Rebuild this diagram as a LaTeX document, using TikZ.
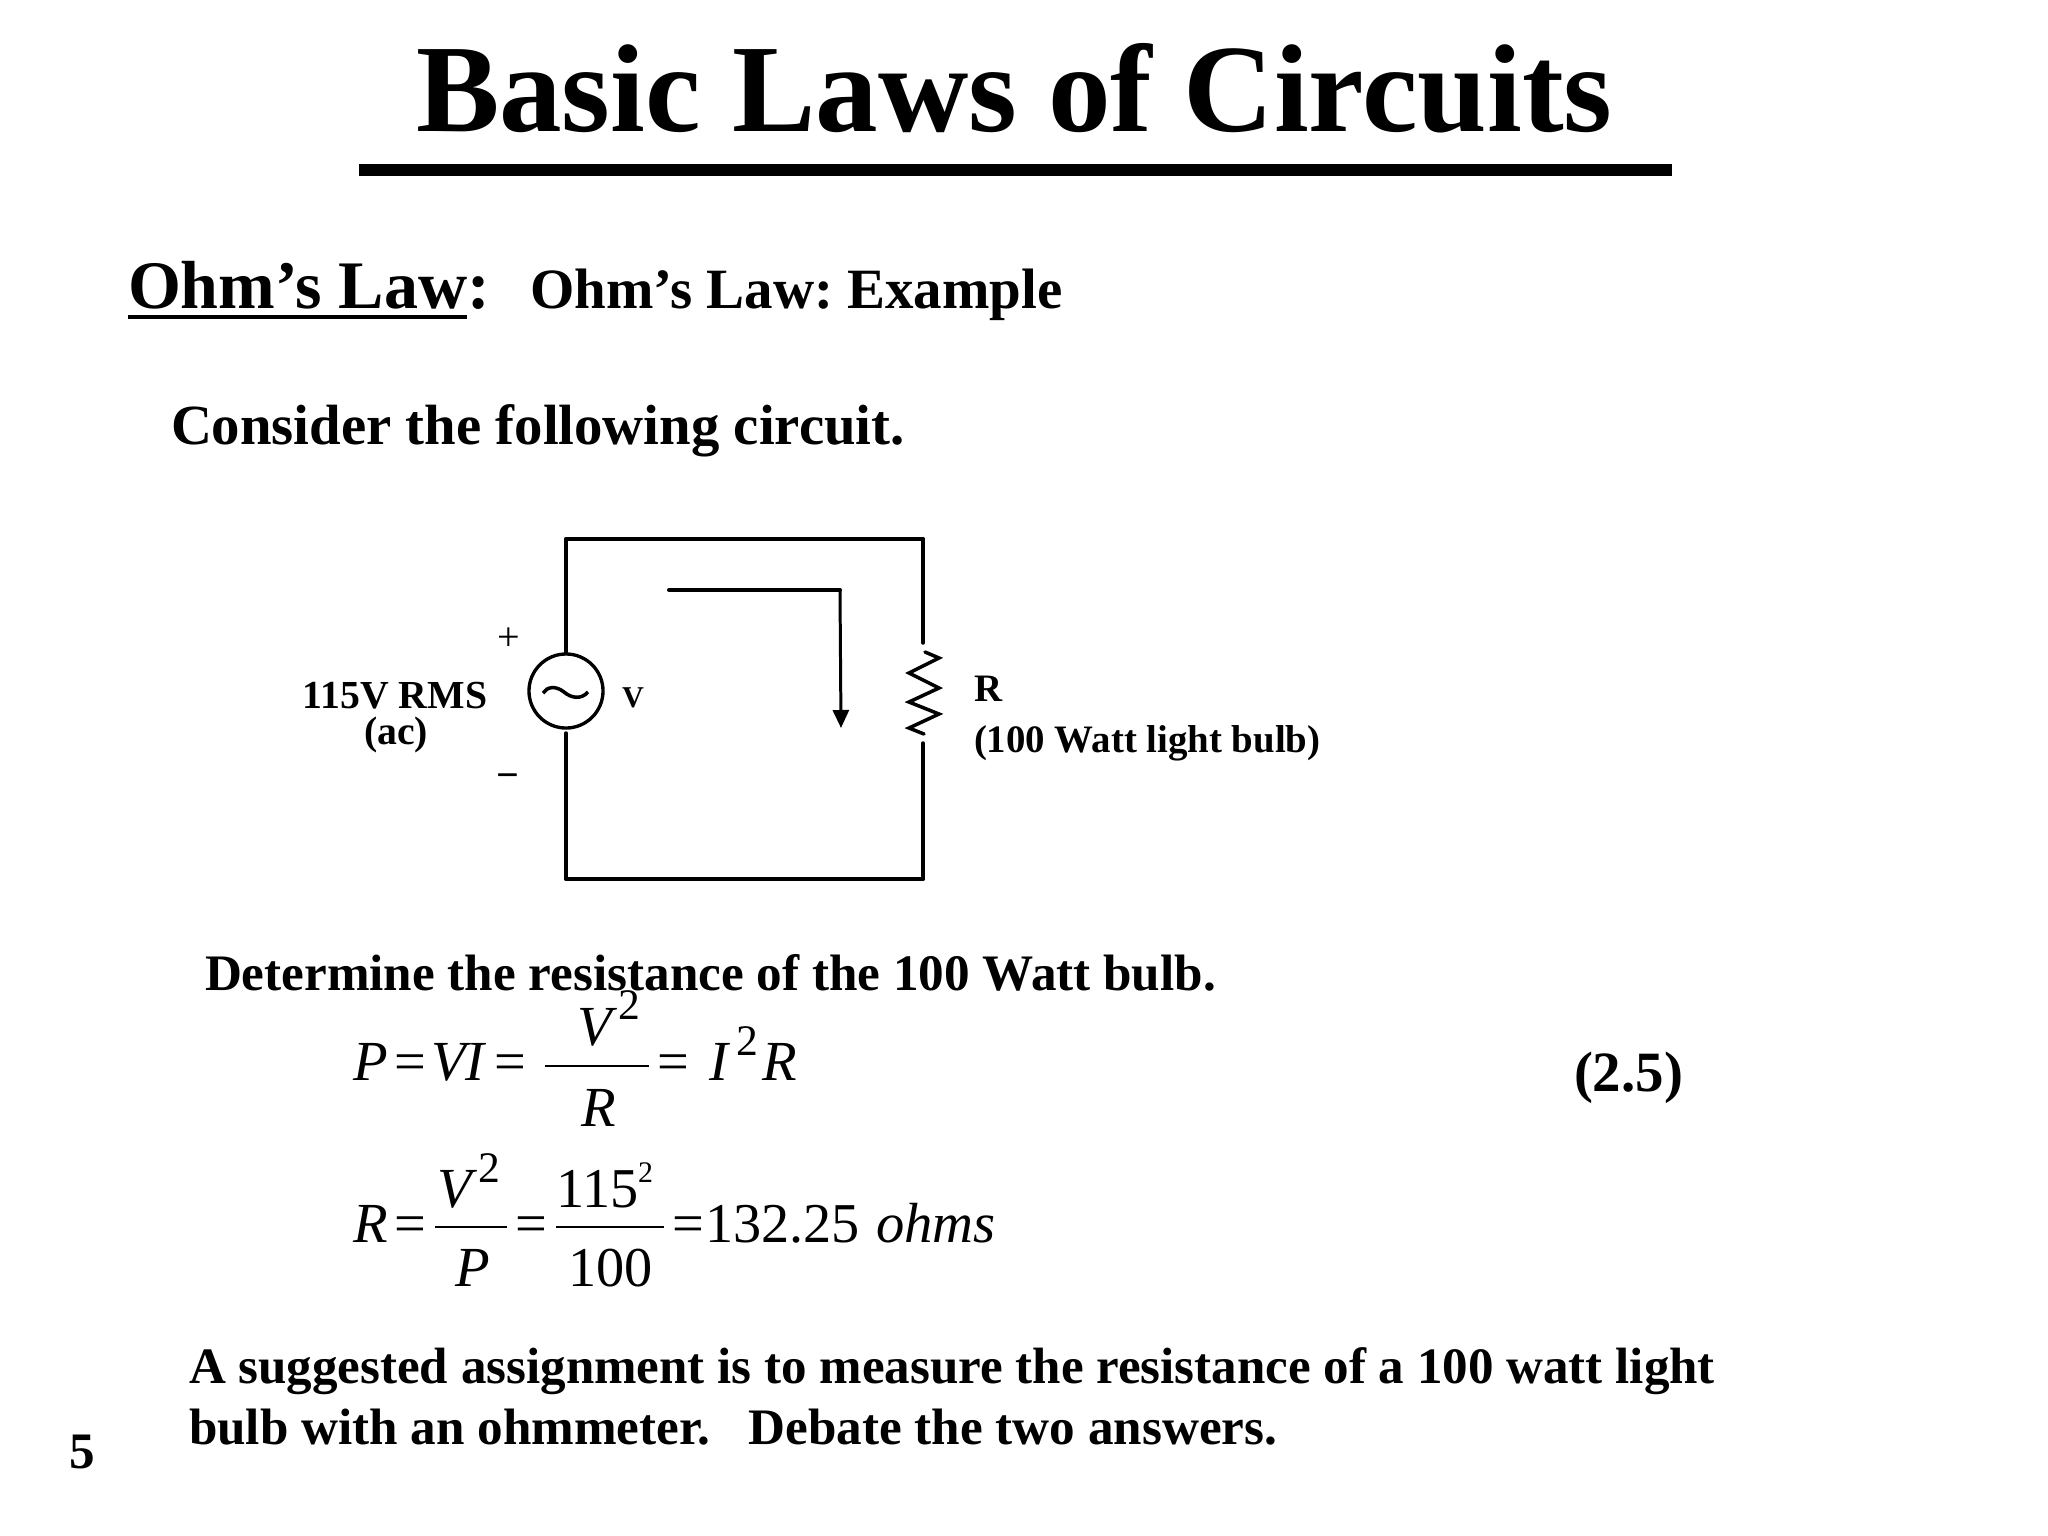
\documentclass[tikz,border=0pt]{standalone}
\usepackage{fontspec}
\setmainfont{Liberation Serif}
\usetikzlibrary{arrows.meta}
\frenchspacing
\tikzset{
  txt/.style={anchor=base west,inner sep=0pt,outer sep=0pt},
  ctxt/.style={anchor=base,inner sep=0pt,outer sep=0pt},
  bfa/.style={font=\fontsize{35.57}{40}\selectfont\bfseries},
  bfb/.style={font=\fontsize{19.34}{22}\selectfont\bfseries},
  bfc/.style={font=\fontsize{16.2}{20}\selectfont\bfseries},
  bfg/.style={font=\fontsize{16.14}{20}\selectfont\bfseries},
  bfd/.style={font=\fontsize{14.55}{18}\selectfont\bfseries},
  bfh/.style={font=\fontsize{14.51}{18}\selectfont\bfseries},
  bfe/.style={font=\fontsize{11.05}{13}\selectfont\bfseries},
  bfi/.style={font=\fontsize{11.3}{13}\selectfont\bfseries},
  bff/.style={font=\fontsize{8.6}{10}\selectfont\bfseries},
  eqi/.style={font=\fontsize{16.1}{20}\selectfont\itshape},
  eqr/.style={font=\fontsize{16}{20}\selectfont},
  eqs/.style={font=\fontsize{12.4}{14}\selectfont},
  eqt/.style={font=\fontsize{8.5}{10}\selectfont},
  sgn/.style={font=\fontsize{11.4}{13}\selectfont},
  wire/.style={line width=1pt,line join=miter,line cap=round},
  heavy/.style={line width=1.15pt,line cap=round},
  frac/.style={line width=0.65pt},
}
\begin{document}
\begin{tikzpicture}[x=0.01cm,y=-0.01cm]
\useasboundingbox (0,0) rectangle (2048,1536);
\fill[white] (0,0) rectangle (2048,1536);
% title
\node[txt,bfa] (title) at (416,131) {Basic Laws of Circuits};
\coordinate (barL) at (359,170); \coordinate (barR) at (1672,170);
\draw[line width=3.6pt] (barL) -- (barR);
\node[txt,bfb] (ohm) at (128,308) {Ohm’s Law:};
\coordinate (ulL) at (128,317); \coordinate (ulR) at (467,317);
\draw[line width=1.4pt] (ulL) -- (ulR);
\node[txt,bfc] (ex) at (530,308) {Ohm’s Law: Example};
\node[txt,bfg] (cons) at (171,444) {Consider the following circuit.};
% circuit
\coordinate (tl) at (566,539); \coordinate (tr) at (923,539);
\coordinate (bl) at (566,879); \coordinate (br) at (923,879);
\coordinate (rt) at (923,643); \coordinate (rb) at (923,743);
\node[circle,draw,line width=0.95pt,minimum size=0.74cm,inner sep=0pt] (src) at (566,691) {};
\coordinate (srcb) at (566,733);
\draw[wire] (src.north) -- (tl);
\draw[heavy] (tl) -- (tr);
\draw[wire] (tr) -- (rt);
\draw[wire] (srcb) -- (bl);
\draw[heavy] (bl) -- (br);
\draw[wire] (br) -- (rb);
\draw[line width=1pt] (543,693) .. controls (547,687) and (555,685) .. (564,692) .. controls (571,698) and (581,700) .. (588,692);
\draw[wire] (925,652) -- (939,658) -- (909,673) -- (939,688) -- (909,702) -- (939,714) -- (909,728) -- (924,734);
\coordinate (a0) at (669,590); \coordinate (a1) at (840,590); \coordinate (a2) at (841,728);
\draw[heavy] (a0) -- (a1);
\draw[line width=0.85pt,-{Triangle[length=0.18cm,width=0.16cm]}] (a1) -- (a2);
\node[ctxt,sgn] (plus) at (509,650) {+};
\node[ctxt,sgn,font=\fontsize{11.4}{13}\selectfont\bfseries] (minus) at (508,788) {−};
\node[ctxt,bfi] (vs) at (395,708) {115V RMS};
\node[ctxt,bfi] (ac) at (396,744) {(ac)};
\node[txt,bff] (v) at (622,707) {V};
\node[txt,bfe] (r) at (974,701) {R};
\node[txt,bfe] (rl) at (974,752) {(100 Watt light bulb)};
% text
\node[txt,bfd] (det) at (205,990) {Determine the resistance of the 100 Watt bulb.};
\node[txt,bfc] (num) at (1574,1091) {(2.5)};
\node[txt,bfh] (s1) at (189,1383) {A suggested assignment is to measure the resistance of a 100 watt light};
\node[txt,bfd] (s2) at (189,1444) {bulb with an ohmmeter.\ \ \ Debate the two answers.};
\node[txt,bfd] (pg) at (69,1468) {5};
% eq 1
\node[txt,eqi] (e1a) at (353,1080) {P};
\node[txt,eqr] (e1b) at (394,1080) {=};
\node[txt,eqi] (e1c) at (431,1080) {VI};
\node[txt,eqr] (e1d) at (494,1080) {=};
\node[txt,eqi] (e1e) at (577,1045) {V};
\node[txt,eqs] (e1f) at (618,1019) {2};
\coordinate (f1a) at (545,1066); \coordinate (f1b) at (649,1066);
\draw[frac] (f1a) -- (f1b);
\node[txt,eqi] (e1g) at (581,1126) {R};
\node[txt,eqr] (e1h) at (657,1080) {=};
\node[txt,eqi] (e1i) at (709,1080) {I};
\node[txt,eqs] (e1j) at (736,1055) {2};
\node[txt,eqi] (e1k) at (762,1080) {R};
% eq 2
\node[txt,eqi] (e2a) at (353,1242) {R};
\node[txt,eqr] (e2b) at (394,1242) {=};
\coordinate (f2a) at (435,1227); \coordinate (f2b) at (507,1227);
\draw[frac] (f2a) -- (f2b);
\node[txt,eqi] (e2c) at (437,1207) {V};
\node[txt,eqs] (e2d) at (478,1182) {2};
\node[txt,eqi] (e2e) at (455,1286) {P};
\node[txt,eqr] (e2f) at (515,1242) {=};
\coordinate (f2c) at (556,1227); \coordinate (f2d) at (664,1227);
\draw[frac] (f2c) -- (f2d);
\node[txt,eqr] (e2g) at (556,1207) {115};
\node[txt,eqt] (e2h) at (638,1182) {2};
\node[txt,eqr] (e2i) at (568,1286) {100};
\node[txt,eqr] (e2j) at (672,1242) {=};
\node[txt,eqr] (e2l) at (705,1242) {132.25};
\node[txt,eqi] (e2k) at (876,1242) {ohms};
\end{tikzpicture}
\end{document}
